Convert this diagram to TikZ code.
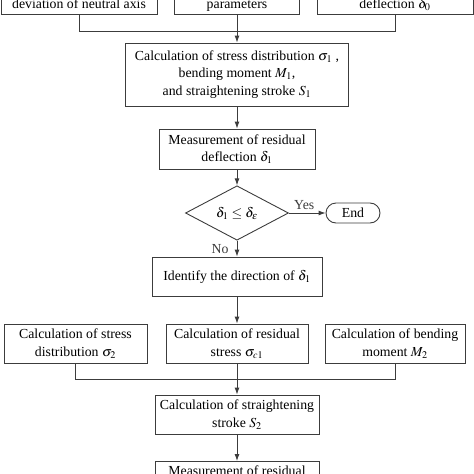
\documentclass[tikz,border=0pt]{standalone}
\usepackage{mathptmx}
\usepackage{fontspec}
\setmainfont{Liberation Serif}
\definecolor{LineGray}{RGB}{60,60,60}
\usetikzlibrary{
    shapes.geometric,
    arrows.meta,
    positioning,
}
\newcommand{\flowfont}{\fontsize{13.8}{17.5}\selectfont}

\begin{document}
\begin{tikzpicture}[x=1pt, y=-1pt,
    box/.style={rectangle, draw=LineGray, line width=0.9pt, font=\flowfont, align=center, inner sep=2pt},
    cut/.style={box, text height=30pt, text depth=2pt, inner ysep=4pt},
    dec/.style={diamond, draw=LineGray, line width=0.9pt, font=\flowfont, inner sep=0pt},
    arr/.style={-{Latex[length=7pt, width=5pt]}, line width=0.9pt, LineGray},
    lin/.style={line width=0.9pt, LineGray},
    lbl/.style={font=\flowfont, inner sep=2pt}
]
    \useasboundingbox (0,0) rectangle (474,474);
    \clip (0,0) rectangle (474,474);
    % boxes cut by the top edge
    \node[cut, anchor=south, minimum width=156pt] (dev) at (79,15)  {deviation of neutral axis};
    \node[cut, anchor=south, minimum width=125pt] (par) at (237,15) {parameters};
    \node[cut, anchor=south, minimum width=156pt] (def) at (395,15) {deflection $\delta_0$};
    \node[box, minimum width=223pt, minimum height=63pt] (cal) at (237,74.5)
        {Calculation of stress distribution $\sigma_1$ ,\\bending moment $M_1$,\\and straightening stroke $S_1$};
    \node[box, minimum width=156pt, minimum height=40pt] (mea) at (237,149) {Measurement of residual\\deflection $\delta_1$};
    \node[dec, minimum width=103pt, minimum height=40pt] (chk) at (237,213) {$\delta_1 \le \delta_\varepsilon$};
    \node[box, rounded corners=10pt, minimum width=54pt, minimum height=20pt] (fin) at (353,213) {End};
    \node[box, minimum width=170pt, minimum height=39pt] (idn) at (237,276.5) {Identify the direction of $\delta_1$};
    \node[box, minimum width=143pt, minimum height=39pt] (sig) at (75.5,343.5) {Calculation of stress\\distribution $\sigma_2$};
    \node[box, minimum width=142pt, minimum height=39pt] (res) at (237,343.5) {Calculation of residual\\stress $\sigma_{c1}$};
    \node[box, minimum width=140pt, minimum height=39pt] (mom) at (395,343.5) {Calculation of bending\\moment $M_2$};
    \node[box, minimum width=164pt, minimum height=39pt] (str) at (237,414.5) {Calculation of straightening\\stroke $S_2$};
    % box cut by the bottom edge
    \node[box, anchor=north, minimum width=164pt, text height=10pt, text depth=30pt, inner ysep=4pt] (mes) at (237,461) {Measurement of residual};
    % connectors
    \draw[lin] (dev.south) -- ++(0,16) -| (def.south);
    \draw[arr] (par) -- (cal);
    \draw[arr] (cal) -- (mea);
    \draw[arr] (mea) -- (chk);
    \draw[arr] (chk) -- node[lbl, above=1pt, xshift=-3pt] {Yes} (fin);
    \draw[arr] (chk) -- node[lbl, left=6pt] {No} (idn);
    \draw[arr] (idn) -- (res);
    \draw[lin] (sig.south) -- ++(0,16) -| (mom.south);
    \draw[arr] (res) -- (str);
    \draw[arr] (str) -- (mes);
\end{tikzpicture}
\end{document}
